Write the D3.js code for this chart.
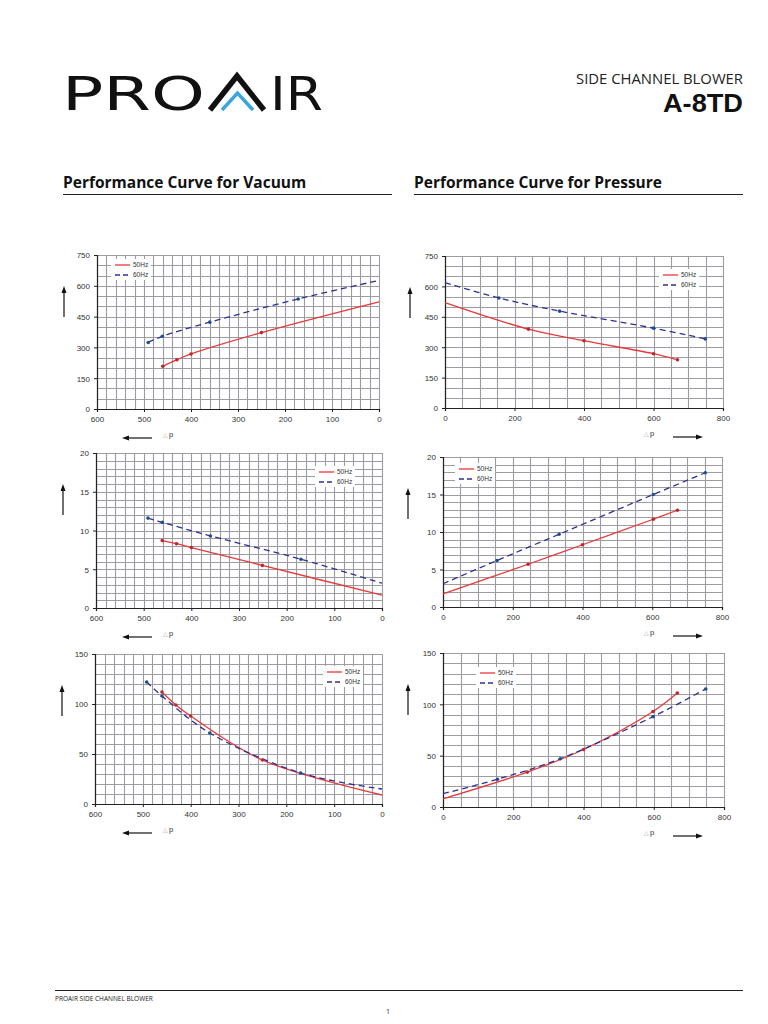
<!DOCTYPE html>
<html>
<head>
<meta charset="utf-8">
<script src="https://cdn.jsdelivr.net/npm/d3@7"></script>
<style>
  body { margin: 0; background: #fff; }
  svg { display: block; }
  .tick-label { font-family: "Liberation Sans", Arial, sans-serif; font-size: 8px; fill: #333; }
  .legend-label { font-family: "Liberation Sans", Arial, sans-serif; font-size: 6.5px; fill: #333; }
</style>
</head>
<body>
<div id="chart"></div>
<script>
// tick labels
const vacuumTicksX = [600, 500, 400, 300, 200, 100, 0];
const pressureTicksX = [0, 200, 400, 600, 800];
const flowTicks = [0, 150, 300, 450, 600, 750];
const powerTicks = [0, 5, 10, 15, 20];
const tempTicks = [0, 50, 100, 150];

// series values [Δp, value]
const vacuumFlow50 = [[460, 208], [430, 240], [400, 268], [250, 372], [0, 522]];
const vacuumFlow60 = [[491, 324], [461, 354], [360, 423], [172, 536], [0, 626]];
const pressureFlow50 = [[0, 520], [240, 389], [400, 332], [600, 268], [669, 238]];
const pressureFlow60 = [[0, 619], [155, 543], [330, 478], [600, 394], [749, 341]];
const vacuumPower50 = [[461, 8.7], [431, 8.3], [400, 7.8], [251, 5.5], [0, 1.65]];
const vacuumPower60 = [[491, 11.6], [461, 11.05], [360, 9.3], [170, 6.3], [0, 3.2]];
const pressurePower50 = [[0, 1.75], [244, 5.7], [400, 8.3], [603, 11.7], [672, 12.9]];
const pressurePower60 = [[0, 3.1], [155, 6.2], [333, 9.7], [603, 15.0], [752, 17.9]];
const vacuumTemp50 = [[460, 112], [431, 99], [400, 88], [250, 44], [0, 9]];
const vacuumTemp60 = [[492, 122], [460, 108], [360, 71], [170, 31], [0, 15]];
const pressureTemp50 = [[0, 8], [240, 34], [400, 56], [598, 93], [667, 111]];
const pressureTemp60 = [[0, 13], [155, 27], [334, 47], [598, 88], [748, 115]];

const seriesNames = ['50Hz', '60Hz'];

const red = '#e8393c', redDot = '#c0272d';
const blue = '#2e3192', blueDot = '#1d4f8f';

// panel layout
const panels = [
  {side: 'vac', x0: 97, x1: 379, y0: 255, y1: 409, xTicks: vacuumTicksX, xStep: 20,
   yTicks: flowTicks, yStep: 50, s50: vacuumFlow50, s60: vacuumFlow60, legend: [115, 265]},
  {side: 'pre', x0: 445, x1: 723, y0: 256, y1: 408, xTicks: pressureTicksX, xStep: 50,
   yTicks: flowTicks, yStep: 50, s50: pressureFlow50, s60: pressureFlow60, legend: [663, 275]},
  {side: 'vac', x0: 96, x1: 382, y0: 453, y1: 608, xTicks: vacuumTicksX, xStep: 20,
   yTicks: powerTicks, yStep: 1, s50: vacuumPower50, s60: vacuumPower60, legend: [319, 472]},
  {side: 'pre', x0: 443, x1: 722, y0: 457, y1: 607, xTicks: pressureTicksX, xStep: 50,
   yTicks: powerTicks, yStep: 1, s50: pressurePower50, s60: pressurePower60, legend: [459, 469]},
  {side: 'vac', x0: 95, x1: 382, y0: 654, y1: 804, xTicks: vacuumTicksX, xStep: 20,
   yTicks: tempTicks, yStep: 10, s50: vacuumTemp50, s60: vacuumTemp60, legend: [327, 672]},
  {side: 'pre', x0: 443, x1: 724, y0: 653, y1: 807, xTicks: pressureTicksX, xStep: 50,
   yTicks: tempTicks, yStep: 10, s50: pressureTemp50, s60: pressureTemp60, legend: [480, 673]}
];

const svg = d3.select('#chart').append('svg')
  .attr('width', 768)
  .attr('height', 1024);

// ---- header / logo ----
const logo = svg.append('g');
logo.append('text')
  .attr('x', 62).attr('y', 110)
  .attr('textLength', 143).attr('lengthAdjust', 'spacingAndGlyphs')
  .style('font-family', '"DejaVu Sans", sans-serif')
  .style('font-size', '47px')
  .style('fill', '#111')
  .text('PRO');
// the A of the logo is drawn as a chevron
logo.append('path')
  .attr('d', 'M210,110 L237,76 L264,110')
  .attr('fill', 'none').attr('stroke', '#111').attr('stroke-width', 5.5)
  .attr('stroke-linejoin', 'miter');
logo.append('path')
  .attr('d', 'M222,110 L237.5,93 L253,110')
  .attr('fill', 'none').attr('stroke', '#3aa6dd').attr('stroke-width', 3.5);
logo.append('text')
  .attr('x', 270).attr('y', 110)
  .attr('textLength', 53).attr('lengthAdjust', 'spacingAndGlyphs')
  .style('font-family', '"DejaVu Sans", sans-serif')
  .style('font-size', '47px')
  .style('fill', '#111')
  .text('IR');

svg.append('text')
  .attr('x', 743).attr('y', 84)
  .attr('text-anchor', 'end')
  .attr('textLength', 167).attr('lengthAdjust', 'spacingAndGlyphs')
  .style('font-family', '"Open Sans", sans-serif')
  .style('font-size', '14px')
  .style('fill', '#222')
  .text('SIDE CHANNEL BLOWER');
svg.append('text')
  .attr('x', 743).attr('y', 111.5)
  .attr('text-anchor', 'end')
  .attr('textLength', 80).attr('lengthAdjust', 'spacingAndGlyphs')
  .style('font-family', '"Liberation Sans", Arial, sans-serif')
  .style('font-weight', 'bold')
  .style('font-size', '26px')
  .style('fill', '#111')
  .text('A-8TD');

// section titles
[['Performance Curve for Vacuum', 63, 392], ['Performance Curve for Pressure', 414, 743]].forEach(([t, a, b]) => {
  svg.append('text')
    .attr('x', a).attr('y', 188)
    .style('font-family', '"Open Sans", sans-serif')
    .style('font-weight', 'bold')
    .style('font-size', '15.5px')
    .style('fill', '#111')
    .text(t);
  svg.append('line')
    .attr('x1', a).attr('x2', b).attr('y1', 194.5).attr('y2', 194.5)
    .attr('stroke', '#222').attr('stroke-width', 1);
});

// ---- charts ----
panels.forEach(p => {
  const vac = p.side === 'vac';
  const xScale = d3.scaleLinear()
    .domain(vac ? [600, 0] : [0, 800])
    .range([p.x0, p.x1]);
  const yMax = d3.max(p.yTicks);
  const yScale = d3.scaleLinear()
    .domain([0, yMax])
    .range([p.y1, p.y0]);

  const g = svg.append('g');

  // grid
  const gridX = d3.range(0, (vac ? 600 : 800) + 0.001, p.xStep);
  const gridY = d3.range(0, yMax + 0.001, p.yStep);
  g.append('g').selectAll('line').data(gridX).join('line')
    .attr('x1', d => Math.round(xScale(d)) + 0.5).attr('x2', d => Math.round(xScale(d)) + 0.5)
    .attr('y1', p.y0).attr('y2', p.y1)
    .attr('stroke', '#9c9ca2').attr('stroke-width', 1.1);
  g.append('g').selectAll('line').data(gridY).join('line')
    .attr('y1', d => Math.round(yScale(d)) + 0.5).attr('y2', d => Math.round(yScale(d)) + 0.5)
    .attr('x1', p.x0).attr('x2', p.x1)
    .attr('stroke', '#9c9ca2').attr('stroke-width', 1.1);

  // axes
  const xAxis = d3.axisBottom(xScale).tickValues(p.xTicks).tickSize(3).tickPadding(4);
  const yAxis = d3.axisLeft(yScale).tickValues(p.yTicks).tickSize(3).tickPadding(4);
  const xg = g.append('g').attr('transform', `translate(0,${p.y1})`).call(xAxis);
  const yg = g.append('g').attr('transform', `translate(${p.x0},0)`).call(yAxis);
  [xg, yg].forEach(a => {
    a.select('.domain').attr('stroke', '#222').attr('stroke-width', 1.2);
    a.selectAll('.tick line').attr('stroke', '#222');
    a.selectAll('.tick text').attr('class', 'tick-label').attr('fill', null);
  });
  yg.selectAll('.tick text').attr('dy', '0.35em');

  // curves
  const line = d3.line()
    .x(d => xScale(d[0]))
    .y(d => yScale(d[1]))
    .curve(d3.curveCatmullRom.alpha(0.5));

  g.append('path').datum(p.s50)
    .attr('d', line).attr('fill', 'none')
    .attr('stroke', red).attr('stroke-width', 1.3);
  g.append('path').datum(p.s60)
    .attr('d', line).attr('fill', 'none')
    .attr('stroke', blue).attr('stroke-width', 1.3)
    .attr('stroke-dasharray', '6,4');

  // measured points (the ends at Δp = 0 carry no marker)
  g.append('g').selectAll('circle').data(p.s50.filter(d => d[0] !== 0)).join('circle')
    .attr('cx', d => xScale(d[0])).attr('cy', d => yScale(d[1]))
    .attr('r', 1.8).attr('fill', redDot);
  g.append('g').selectAll('circle').data(p.s60.filter(d => d[0] !== 0)).join('circle')
    .attr('cx', d => xScale(d[0])).attr('cy', d => yScale(d[1]))
    .attr('r', 1.8).attr('fill', blueDot);

  // legend
  const [lx, ly] = p.legend;
  g.append('rect')
    .attr('x', lx - 4).attr('y', ly - 6).attr('width', 40).attr('height', 21)
    .attr('fill', '#fff');
  seriesNames.forEach((name, i) => {
    g.append('line')
      .attr('x1', lx).attr('x2', lx + 15)
      .attr('y1', ly + i * 10).attr('y2', ly + i * 10)
      .attr('stroke', i === 0 ? red : blue).attr('stroke-width', 1.3)
      .attr('stroke-dasharray', i === 0 ? null : '5,3');
    g.append('text')
      .attr('class', 'legend-label')
      .attr('x', lx + 18).attr('y', ly + i * 10)
      .attr('dy', '0.35em')
      .text(name);
  });

  // direction arrows
  const ax = p.x0 - (vac ? 33 : 35);
  g.append('line')
    .attr('x1', ax).attr('x2', ax).attr('y1', p.y0 + 62).attr('y2', p.y0 + 37)
    .attr('stroke', '#111').attr('stroke-width', 1.2);
  g.append('path')
    .attr('d', `M${ax - 2.5},${p.y0 + 38} L${ax},${p.y0 + 31} L${ax + 2.5},${p.y0 + 38} Z`)
    .attr('fill', '#111');

  const ay = p.y1 + 29;
  if (vac) {
    g.append('line').attr('x1', 128).attr('x2', 152).attr('y1', ay).attr('y2', ay)
      .attr('stroke', '#111').attr('stroke-width', 1.2);
    g.append('path').attr('d', `M129,${ay - 2.5} L122,${ay} L129,${ay + 2.5} Z`).attr('fill', '#111');
  } else {
    g.append('line').attr('x1', 673).attr('x2', 697).attr('y1', ay).attr('y2', ay)
      .attr('stroke', '#111').attr('stroke-width', 1.2);
    g.append('path').attr('d', `M696,${ay - 2.5} L703,${ay} L696,${ay + 2.5} Z`).attr('fill', '#111');
  }
  const dp = g.append('text')
    .attr('x', vac ? 163 : 644).attr('y', ay - 1)
    .style('font-family', '"Liberation Sans", Arial, sans-serif');
  dp.append('tspan').style('font-size', '5.5px').style('fill', '#999').text('△');
  dp.append('tspan').attr('dx', 1).style('font-size', '7.5px').style('fill', '#333').text('p');
});

// ---- footer ----
svg.append('line')
  .attr('x1', 55).attr('x2', 743).attr('y1', 990.5).attr('y2', 990.5)
  .attr('stroke', '#222').attr('stroke-width', 1.2);
svg.append('text')
  .attr('x', 55).attr('y', 1001)
  .style('font-family', '"Open Sans", sans-serif')
  .style('font-size', '6.5px')
  .style('fill', '#222')
  .text('PROAIR SIDE CHANNEL BLOWER');
svg.append('text')
  .attr('x', 388).attr('y', 1014)
  .attr('text-anchor', 'middle')
  .style('font-family', '"Open Sans", sans-serif')
  .style('font-size', '7px')
  .style('fill', '#222')
  .text('1');
</script>
</body>
</html>
